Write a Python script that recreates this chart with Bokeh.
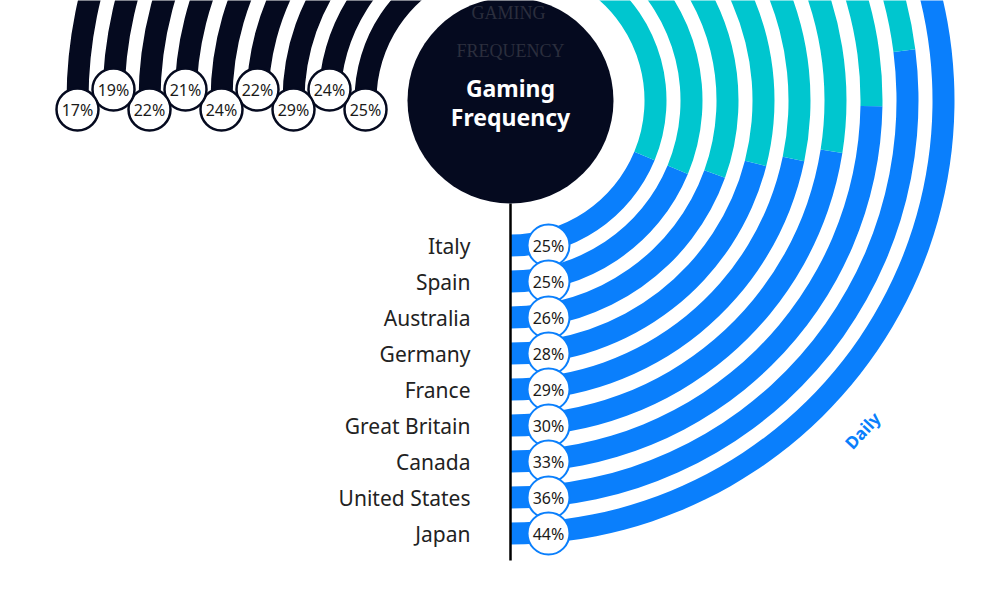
import numpy as np
from bokeh.plotting import figure
from bokeh.models import ColumnDataSource, Range1d
from bokeh.embed import file_html
from bokeh.resources import INLINE
from bokeh.core.properties import value

# ---------------- data ----------------
countries = ["Italy", "Spain", "Australia", "Germany", "France",
             "Great Britain", "Canada", "United States", "Japan"]
daily = [25, 25, 26, 28, 29, 30, 33, 36, 44]
weekly = [28, 27, 25, 28, 26, 27, 25, 24, 22]      # hidden part, estimated
monthly = [22, 24, 20, 22, 21, 22, 20, 21, 17]     # hidden part, estimated
less_often = [25, 24, 29, 22, 24, 21, 22, 19, 17]
series = ["Daily", "Weekly", "Monthly", "Less often"]
title_lines = ["Gaming", "Frequency"]
ghost_lines = ["GAMING", "FREQUENCY"]

# ---------------- style ----------------
BLUE = "#0a7ffc"
CYAN = "#00c6cf"
VIOLET = "#5b3fd6"
NAVY = "#050a1f"
colors = [BLUE, CYAN, VIOLET, NAVY]

W, H = 968, 584
p = figure(width=W, height=H, x_range=Range1d(0, W), y_range=Range1d(600 - H, 600),
           output_backend="svg", toolbar_location=None, min_border=0,
           x_axis_type=None, y_axis_type=None)
p.grid.visible = False
p.outline_line_color = None
p.background_fill_color = "white"
p.border_fill_color = "white"

CX, CY = 510, 500          # data coords (y = 600 - image y)
R0, STEP, HALF = 145, 36, 11
DEG = np.pi / 180.0
FULL = 270.0               # 100% spans 270 degrees

radii = [R0 + STEP * i for i in range(len(countries))]
values = [daily, weekly, monthly, less_often]

xs, ys, ir, orr, sa, ea, cs = [], [], [], [], [], [], []
for i, r in enumerate(radii):
    a = -90.0
    for k, vals in enumerate(values):
        b = a + vals[i] * FULL / 100.0
        xs.append(CX); ys.append(CY)
        ir.append(r - HALF); orr.append(r + HALF)
        sa.append(a * DEG); ea.append(b * DEG)
        cs.append(colors[k])
        a = b

src = ColumnDataSource(dict(x=xs, y=ys, ir=ir, orr=orr, sa=sa, ea=ea, c=cs))
p.annular_wedge(x="x", y="y", inner_radius="ir", outer_radius="orr",
                start_angle="sa", end_angle="ea", fill_color="c",
                line_color=None, direction="anticlock", source=src)

# vertical axis line
p.segment(x0=[CX], y0=[CY - 103], x1=[CX], y1=[40], line_color="black", line_width=2.5)

# center disc
p.circle(x=[CX], y=[CY], radius=103, fill_color=NAVY, line_color=None)
p.text(x=[CX - 2, CX], y=[CY + 88, CY + 50], text=ghost_lines,
       text_align="center", text_baseline="middle",
       text_font=value("Liberation Serif"), text_font_size="18px",
       text_color="#2b2e3d")
p.text(x=[CX, CX], y=[CY + 13, CY - 16], text=title_lines,
       text_align="center", text_baseline="middle",
       text_font=value("Noto Sans"), text_font_style="bold",
       text_font_size="23px", text_color="white")

# country labels
p.text(x=[470] * len(countries), y=[CY - r for r in radii], text=countries,
       text_align="right", text_baseline="middle",
       text_font=value("Noto Sans"), text_font_size="21px", text_color="#222222")

# daily value bubbles
bx = [548] * len(countries)
by = [CY - r for r in radii]
p.circle(x=bx, y=by, radius=21, fill_color="white", line_color=BLUE, line_width=2)
p.text(x=bx, y=by, text=[f"{v}%" for v in daily], text_align="center",
       text_baseline="middle", text_font=value("Noto Sans"),
       text_font_size="16px", text_color="#1a1a1a")

# less-often value bubbles (left end)
lx = [CX - r for r in radii]
ly = [CY - 9 if (len(radii) - 1 - i) % 2 == 0 else CY + 11 for i in range(len(radii))]
p.circle(x=lx, y=ly, radius=21, fill_color="white", line_color=NAVY, line_width=2.5)
p.text(x=lx, y=ly, text=[f"{v}%" for v in less_often], text_align="center",
       text_baseline="middle", text_font=value("Noto Sans"),
       text_font_size="16px", text_color="#1a1a1a")

# series label
p.text(x=[862], y=[170], text=[series[0]], angle=47 * DEG, text_align="center",
       text_baseline="middle", text_font=value("Noto Sans"), text_font_style="bold",
       text_font_size="17px", text_color=BLUE)

open("out.html", "w").write(file_html(p, INLINE))
